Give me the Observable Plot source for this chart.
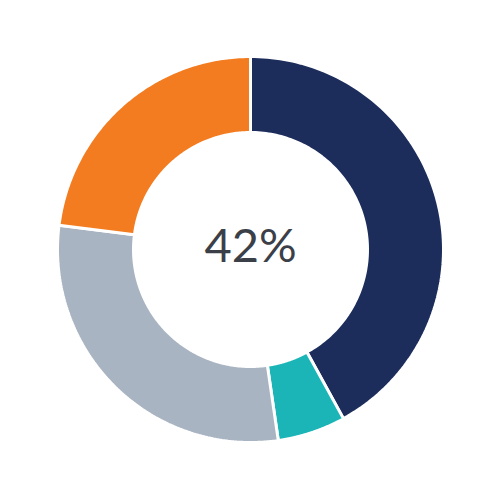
<!DOCTYPE html>
<html>
<head>
<meta charset="utf-8">
<script src="https://cdn.jsdelivr.net/npm/d3@7"></script>
<script src="https://cdn.jsdelivr.net/npm/@observablehq/plot@0.6"></script>
<style>
  html, body { margin: 0; padding: 0; background: #fff; }
</style>
</head>
<body>
<div id="chart"></div>
<script>
const categories = ["A", "B", "C", "D"];
const values = [42, 5.7, 29.3, 23];
const colors = ["#1c2c5b", "#1bb5b7", "#a9b4c2", "#f47c20"];
const centerLabel = "42%";

const R_OUT = 0.772, R_IN = 0.468, STEPS = 120;
const pie = d3.pie().sort(null).value(d => d.value)(categories.map((c, i) => ({category: c, value: values[i]})));
const pts = [];
for (const s of pie) {
  const a0 = s.startAngle, a1 = s.endAngle;
  for (let k = 0; k <= STEPS; k++) {
    const a = a0 + (a1 - a0) * k / STEPS;
    pts.push({category: s.data.category, x: Math.sin(a) * R_OUT, y: Math.cos(a) * R_OUT});
  }
  for (let k = STEPS; k >= 0; k--) {
    const a = a0 + (a1 - a0) * k / STEPS;
    pts.push({category: s.data.category, x: Math.sin(a) * R_IN, y: Math.cos(a) * R_IN});
  }
}

const chart = Plot.plot({
  width: 500,
  height: 500,
  margin: 0,
  x: {domain: [-1, 1], axis: null},
  y: {domain: [-1.004, 0.996], axis: null},
  color: {domain: categories, range: colors},
  marks: [
    Plot.line(pts, {x: "x", y: "y", z: "category", fill: "category", stroke: "white", strokeWidth: 3, curve: "linear-closed", strokeLinejoin: "miter"}),
    Plot.text([centerLabel], {x: () => 0, y: () => 0, text: d => d, fontSize: 47, fontWeight: 400, fill: "#3b4048", fontFamily: "Lato, 'Open Sans', sans-serif", dy: -3})
  ]
});
document.getElementById("chart").appendChild(chart);
</script>
</body>
</html>
